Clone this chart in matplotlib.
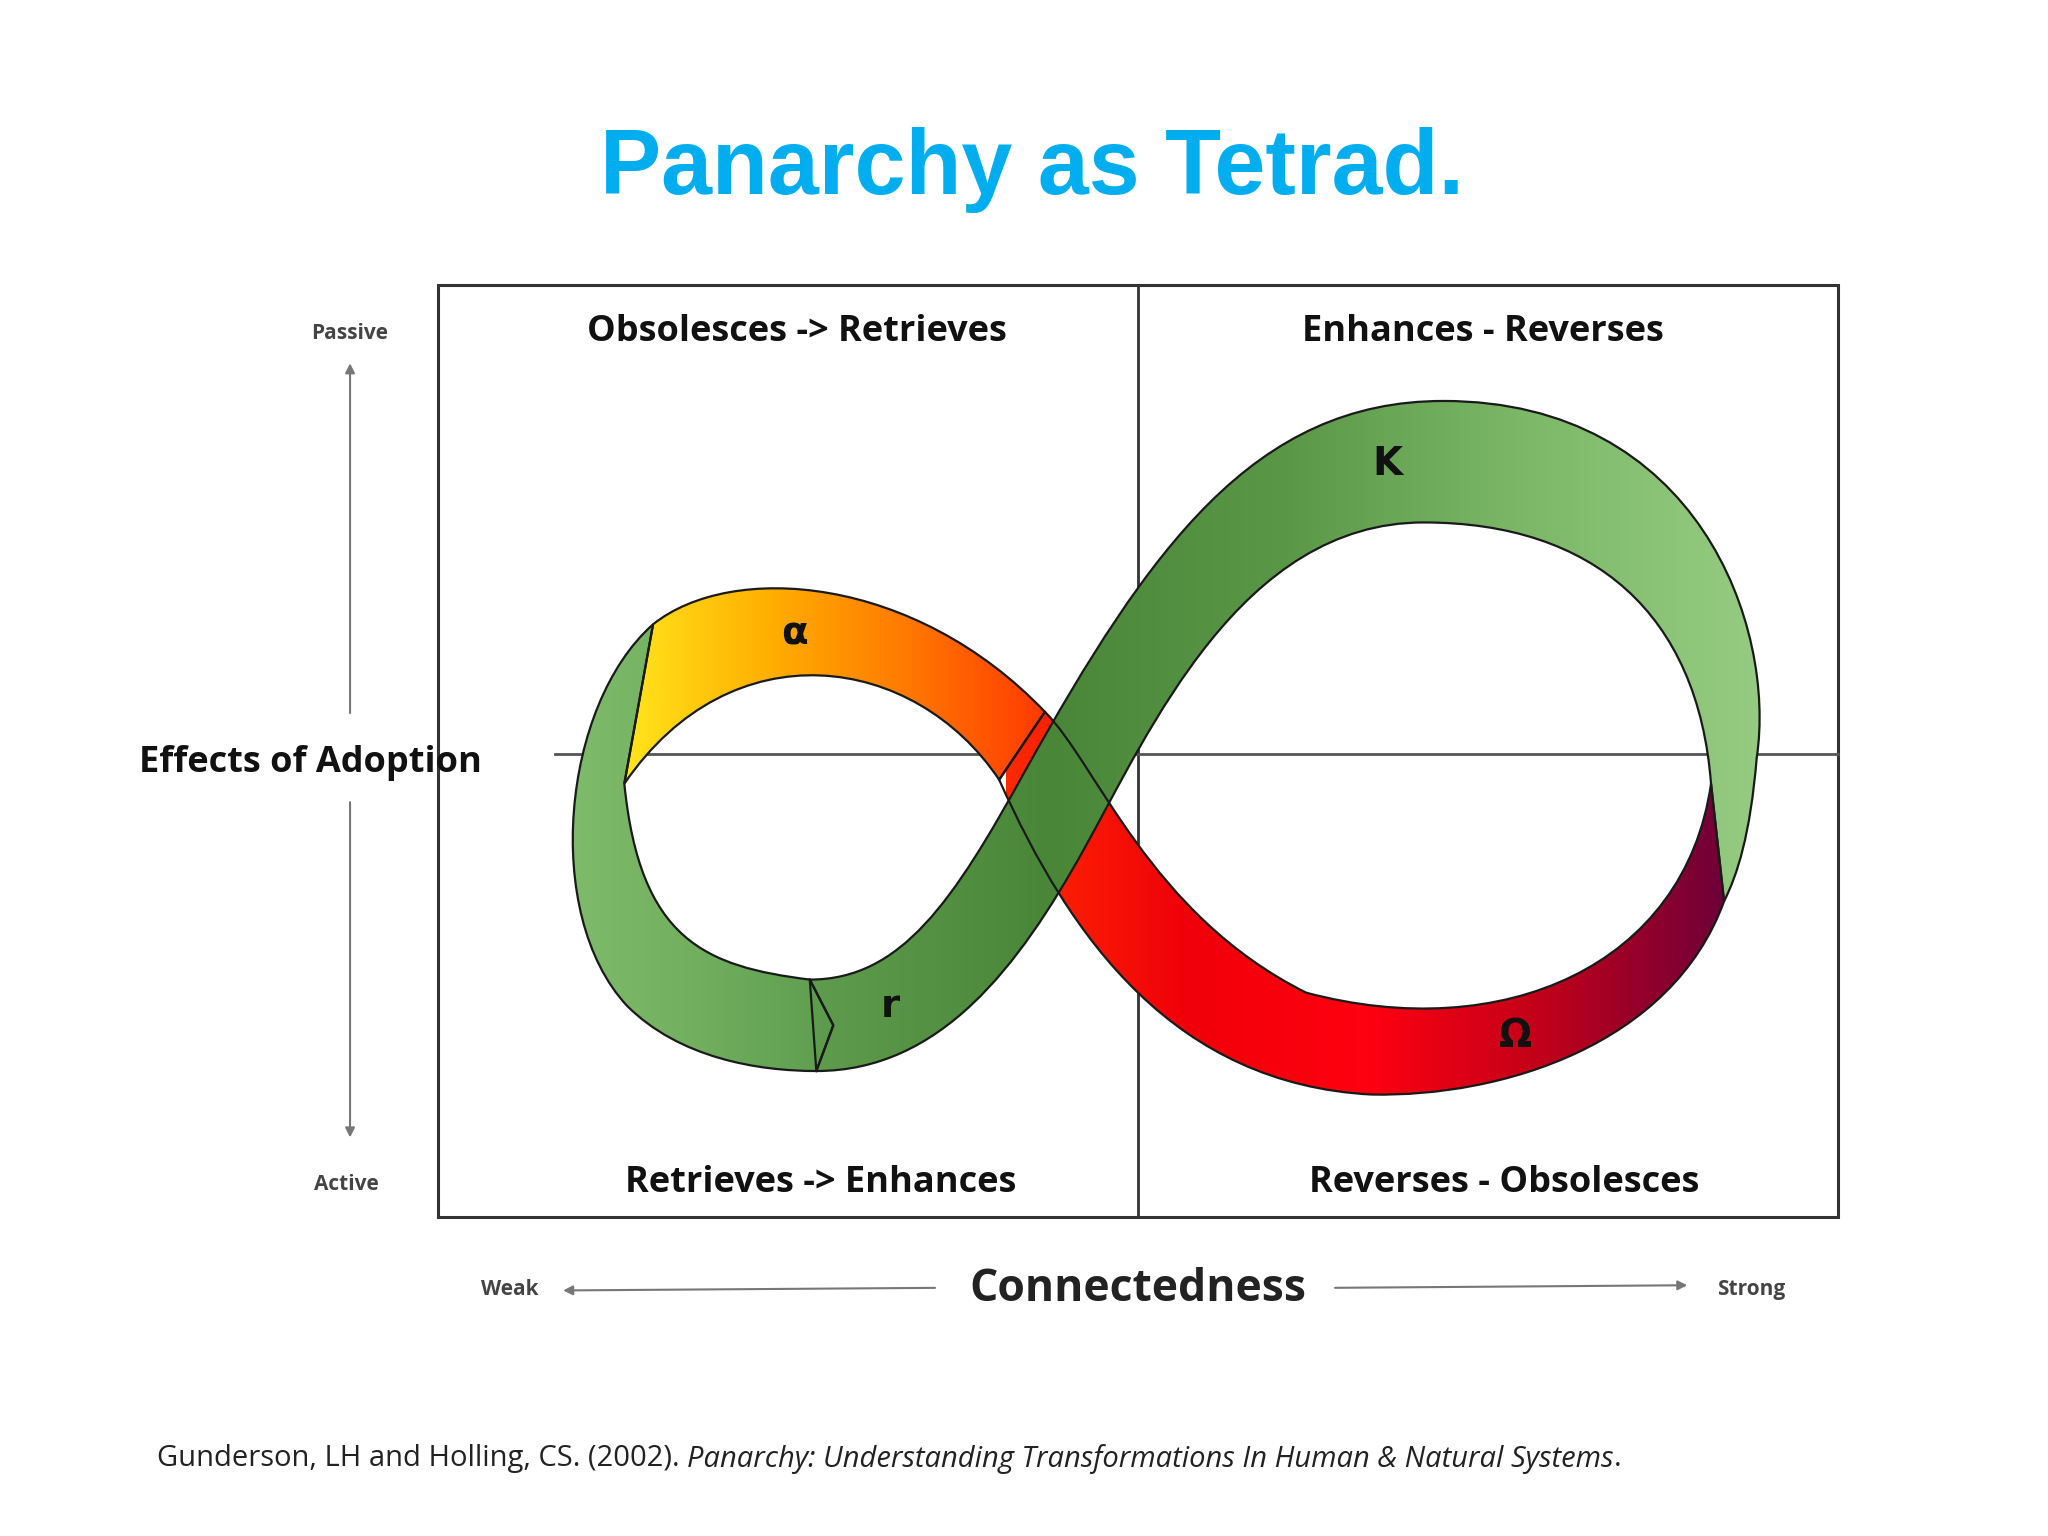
import numpy as np
import matplotlib
matplotlib.use("Agg")
import matplotlib.pyplot as plt
from matplotlib.path import Path
from matplotlib.patches import PathPatch, Rectangle
from matplotlib.colors import LinearSegmentedColormap

W, H = 1568, 1176

title = "Panarchy as Tetrad."
quadrants = ["Obsolesces -> Retrieves", "Enhances - Reverses",
             "Retrieves -> Enhances", "Reverses - Obsolesces"]
phases = ["\u03b1", "K", "r", "\u03a9"]
y_label = "Effects of Adoption"
x_label = "Connectedness"
y_ends = ["Passive", "Active"]
x_ends = ["Weak", "Strong"]
cite_plain = "Gunderson, LH and Holling, CS. (2002). "
cite_italic = "Panarchy: Understanding Transformations In Human & Natural Systems"

# ribbon outlines: start point followed by cubic bezier triples, then inner edge back
alpha_band = [(500, 478), [(560, 430), (700, 440), (800, 545)], (765, 597),
              [(700, 500), (560, 480), (478, 600)]]
omega_band = [(800, 545), [(840, 585), (880, 700), (1000, 760)],
              [(1150, 800), (1290, 740), (1310, 600)], (1320, 690),
              [(1280, 800), (1150, 840), (1050, 838)],
              [(900, 830), (820, 720), (765, 597)]]
k_band = [(625, 820), [(720, 820), (780, 740), (830, 650)],
          [(880, 560), (950, 400), (1090, 400)],
          [(1220, 400), (1300, 470), (1310, 600)], (1320, 690),
          [(1330, 670), (1340, 640), (1345, 580)],
          [(1360, 480), (1300, 307), (1105, 307)],
          [(960, 307), (880, 420), (785, 590)],
          [(730, 690), (690, 750), (620, 750)]]
loop_band = [(500, 478), [(430, 540), (415, 700), (480, 770)],
             [(520, 810), (580, 820), (625, 820)], (638, 785), (620, 750),
             [(540, 740), (490, 720), (478, 600)]]


def band_path(spec):
    verts, codes = [spec[0]], [Path.MOVETO]
    for item in spec[1:]:
        if isinstance(item, list):
            verts += item
            codes += [Path.CURVE4] * 3
        else:
            verts.append(item)
            codes.append(Path.LINETO)
    verts.append(spec[0])
    codes.append(Path.CLOSEPOLY)
    return Path(verts, codes)


fig = plt.figure(figsize=(20.48, 15.36), dpi=100)
ax = fig.add_axes([0, 0, 1, 1])
ax.set_xlim(0, W)
ax.set_ylim(H, 0)
ax.axis("off")


def draw_band(spec, colors, x0, x1):
    patch = PathPatch(band_path(spec), facecolor="none", edgecolor="#1a1a1a", lw=1.6, zorder=5)
    ax.add_patch(patch)
    cmap = LinearSegmentedColormap.from_list("g", colors)
    im = ax.imshow(np.linspace(0, 1, 256)[None, :], cmap=cmap, extent=(x0, x1, 900, 250),
                   aspect="auto", zorder=4)
    im.set_clip_path(patch)


# quadrant frame
ax.add_patch(Rectangle((335, 218), 1072, 714, fill=False, ec="#333333", lw=2.2, zorder=2))
ax.plot([871, 871], [218, 932], color="#333333", lw=2, zorder=2)
ax.plot([425, 1407], [577, 577], color="#555555", lw=2, zorder=2)

draw_band(loop_band, ["#80bd6d", "#72b060", "#5e9c4e"], 420, 640)
draw_band(alpha_band, ["#ffe41c", "#ffb000", "#ff7a00", "#ff3a00"], 480, 800)
draw_band(omega_band, ["#ff2a00", "#f0000a", "#ff0010", "#c0001a", "#6e0038"], 770, 1320)
draw_band(k_band, ["#5e9c4e", "#4a8638", "#5a9848", "#7cb868", "#96cc82"], 620, 1350)
ax.plot([620, 638, 625], [750, 785, 820], color="#1a1a1a", lw=1.6, zorder=6)

for (x, y), s in zip([(608, 485), (1062, 355), (682, 770), (1160, 793)], phases):
    ax.text(x, y, s, fontsize=28, fontweight="bold", color="#111111",
            ha="center", va="center", zorder=7)

qfont = dict(family="Open Sans", fontsize=26, fontweight="bold", color="#111111",
             ha="center", va="center")
for (x, y), s in zip([(610, 254), (1135, 254), (628, 906), (1152, 906)], quadrants):
    ax.text(x, y, s, **qfont)

ax.text(790, 130, title, family="Liberation Sans", fontsize=66, fontweight="bold",
        color="#00aeef", ha="center", va="center")
ax.text(238, 584, y_label, **qfont)
ax.text(871, 987, x_label, family="Open Sans", fontsize=32, fontweight="bold",
        color="#222222", ha="center", va="center")

small = dict(family="Open Sans", fontsize=15, fontweight="bold", color="#444444",
             ha="center", va="center")
ax.text(268, 255, y_ends[0], **small)
ax.text(265, 907, y_ends[1], **small)
ax.text(390, 987, x_ends[0], **small)
ax.text(1341, 987, x_ends[1], **small)

arr = dict(arrowstyle="-|>", color="#777777", lw=1.5, mutation_scale=14)
ax.annotate("", xy=(268, 276), xytext=(268, 548), arrowprops=arr)
ax.annotate("", xy=(268, 873), xytext=(268, 612), arrowprops=arr)
ax.annotate("", xy=(429, 988), xytext=(718, 986), arrowprops=arr)
ax.annotate("", xy=(1294, 984), xytext=(1020, 986), arrowprops=arr)

cfont = dict(family="Open Sans", fontsize=21, color="#222222", ha="left", va="center")
t1 = ax.text(120, 1117, cite_plain, **cfont)
fig.canvas.draw()
bb = t1.get_window_extent().transformed(ax.transData.inverted())
t2 = ax.text(bb.x1, 1117, cite_italic, style="italic", **cfont)
fig.canvas.draw()
bb2 = t2.get_window_extent().transformed(ax.transData.inverted())
ax.text(bb2.x1, 1117, ".", **cfont)

fig.savefig("out.png", dpi=100, facecolor="white")
